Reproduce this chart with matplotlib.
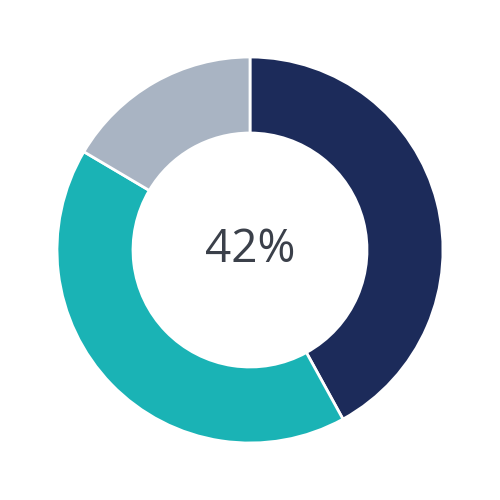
import matplotlib
matplotlib.use("Agg")
import matplotlib.pyplot as plt

labels = ["A", "B", "C"]
values = [42, 41.5, 16.5]
colors = ["#1c2b5a", "#1ab3b5", "#a9b4c3"]
center_text = "42%"

fig = plt.figure(figsize=(5, 5), dpi=100)
ax = fig.add_axes([0, 0, 1, 1])
ax.pie(values, colors=colors, startangle=90, counterclock=False, radius=0.772,
       center=(0, 0),
       wedgeprops=dict(width=0.304, edgecolor="white", linewidth=2))
ax.set_xlim(-1, 1)
ax.set_ylim(-1, 1)
ax.set_aspect("equal")
ax.axis("off")
ax.text(0, 0.002, center_text, ha="center", va="center", fontsize=33,
        family="Open Sans", fontweight="normal", color="#3b404a")
fig.savefig("out.png", dpi=100, facecolor="white")
